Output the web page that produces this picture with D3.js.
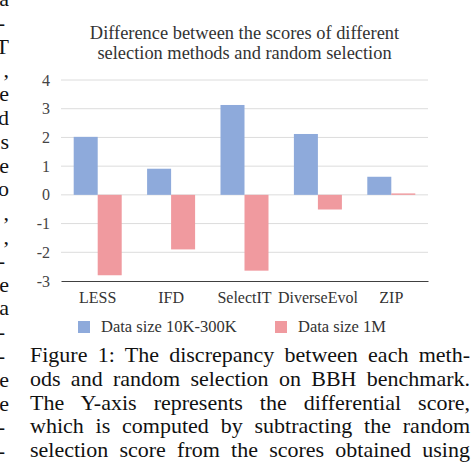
<!DOCTYPE html>
<meta charset="utf-8">
<script src="https://d3js.org/d3.v7.min.js"></script>
<style>
  body { margin: 0; background: #fff; }
  svg text { font-family: "Liberation Serif", "Times New Roman", serif; }
</style>
<svg id="chart" width="474" height="470"></svg>
<script>

// chart data
var methods = ["LESS", "IFD", "SelectIT", "DiverseEvol", "ZIP"];
var seriesNames = ["Data size 10K-300K", "Data size 1M"];
var small = [2.02, 0.91, 3.13, 2.12, 0.63];
var large = [-2.8, -1.9, -2.64, -0.51, 0.05];
var yTicks = [4, 3, 2, 1, 0, -1, -2, -3];
var titleLines = ["Difference between the scores of different",
                  "selection methods and random selection"];
var captionLines = ["Figure 1: The discrepancy between each meth-",
                    "ods and random selection on BBH benchmark.",
                    "The Y-axis represents the differential score,",
                    "which is computed by subtracting the random",
                    "selection score from the scores obtained using"];
// cut-off line ends of the neighbouring column, one per text line
var marginGlyphs = ["a", "-", "T", ",", "e", "d", "s", "e", "o", ",", ",", "-", "e", "a", "-", "-", "e", "e", "-", "-"];

var colors = ["#8eaadb", "#f09a9f"];
var lineStep = 23.8;

var svg = d3.select("#chart");

var x0 = d3.scaleBand()
  .domain(methods)
  .range([61, 428])
  .paddingInner(0.346)
  .paddingOuter(0.173);

var x1 = d3.scaleBand()
  .domain([0, 1])
  .range([0, x0.bandwidth()]);

var y = d3.scaleLinear()
  .domain([-3, 4])
  .range([281, 80]);

// title
svg.append("g").selectAll("text")
  .data(titleLines)
  .enter().append("text")
  .attr("x", 244.5)
  .attr("y", function(d, i) { return 38.5 + i * 20.5; })
  .attr("text-anchor", "middle")
  .style("font-size", "18.4px")
  .style("fill", "#333")
  .text(function(d) { return d; });

// gridlines
svg.append("g").selectAll("line")
  .data(yTicks.filter(function(t) { return t != -3; }))
  .enter().append("line")
  .attr("x1", 61).attr("x2", 428)
  .attr("y1", function(d) { return y(d); })
  .attr("y2", function(d) { return y(d); })
  .style("stroke", "#dcdcdc")
  .style("stroke-width", 1);

// y labels
var yAxis = d3.axisLeft(y)
  .tickValues(yTicks)
  .tickFormat(function(d) { return String(d); })
  .tickSize(0)
  .tickPadding(0);
var gy = svg.append("g")
  .attr("transform", "translate(50,0)")
  .call(yAxis);
gy.attr("font-family", null);
gy.select(".domain").remove();
gy.selectAll("text")
  .style("font-size", "16px")
  .style("fill", "#444");

// bars
var rows = methods.map(function(m, i) { return { m: m, v: [small[i], large[i]] }; });
svg.append("g").selectAll("g")
  .data(rows)
  .enter().append("g")
  .attr("transform", function(d) { return "translate(" + x0(d.m) + ",0)"; })
  .selectAll("rect")
  .data(function(d) { return d.v; })
  .enter().append("rect")
  .attr("x", function(d, i) { return x1(i); })
  .attr("width", x1.bandwidth())
  .attr("y", function(d) { return y(Math.max(0, d)); })
  .attr("height", function(d) { return Math.abs(y(d) - y(0)); })
  .style("fill", function(d, i) { return colors[i]; });

// category axis at the bottom
var xAxis = d3.axisBottom(x0).tickSize(0).tickPadding(0);
var gx = svg.append("g")
  .attr("transform", "translate(0," + y(-3) + ")")
  .call(xAxis);
gx.attr("font-family", null);
gx.select(".domain").style("stroke", "#404040").style("stroke-width", 1.2);
gx.selectAll("text")
  .attr("dy", null)
  .attr("y", 22)
  .style("font-size", "16px")
  .style("fill", "#333");

// legend
var leg = svg.append("g").selectAll("g")
  .data(seriesNames)
  .enter().append("g")
  .attr("transform", function(d, i) { return "translate(" + (i == 0 ? 78 : 275) + ",321)"; });
leg.append("rect")
  .attr("width", 12).attr("height", 12)
  .style("fill", function(d, i) { return colors[i]; });
leg.append("text")
  .attr("x", 23).attr("y", 11)
  .style("font-size", "16.5px")
  .style("fill", "#333")
  .text(function(d) { return d; });

// caption, justified by stretching the word gaps
svg.append("g").selectAll("text")
  .data(captionLines)
  .enter().append("text")
  .attr("x", 30)
  .attr("y", function(d, i) { return 362 + i * lineStep; })
  .style("font-size", "22px")
  .style("fill", "#111")
  .text(function(d) { return d; })
  .each(function(d) {
    var w = this.getComputedTextLength();
    var gaps = d.split(" ").length - 1;
    d3.select(this).style("word-spacing", ((440 - w) / gaps) + "px");
  });

// neighbouring column, cut at the page edge
svg.append("g").selectAll("text")
  .data(marginGlyphs)
  .enter().append("text")
  .attr("x", function(d) { return d == "-" ? 5 : 9; })
  .attr("y", function(d, i) { return 6 + i * lineStep; })
  .attr("text-anchor", "end")
  .style("font-size", "22px")
  .style("fill", "#111")
  .text(function(d) { return d; });

</script>
